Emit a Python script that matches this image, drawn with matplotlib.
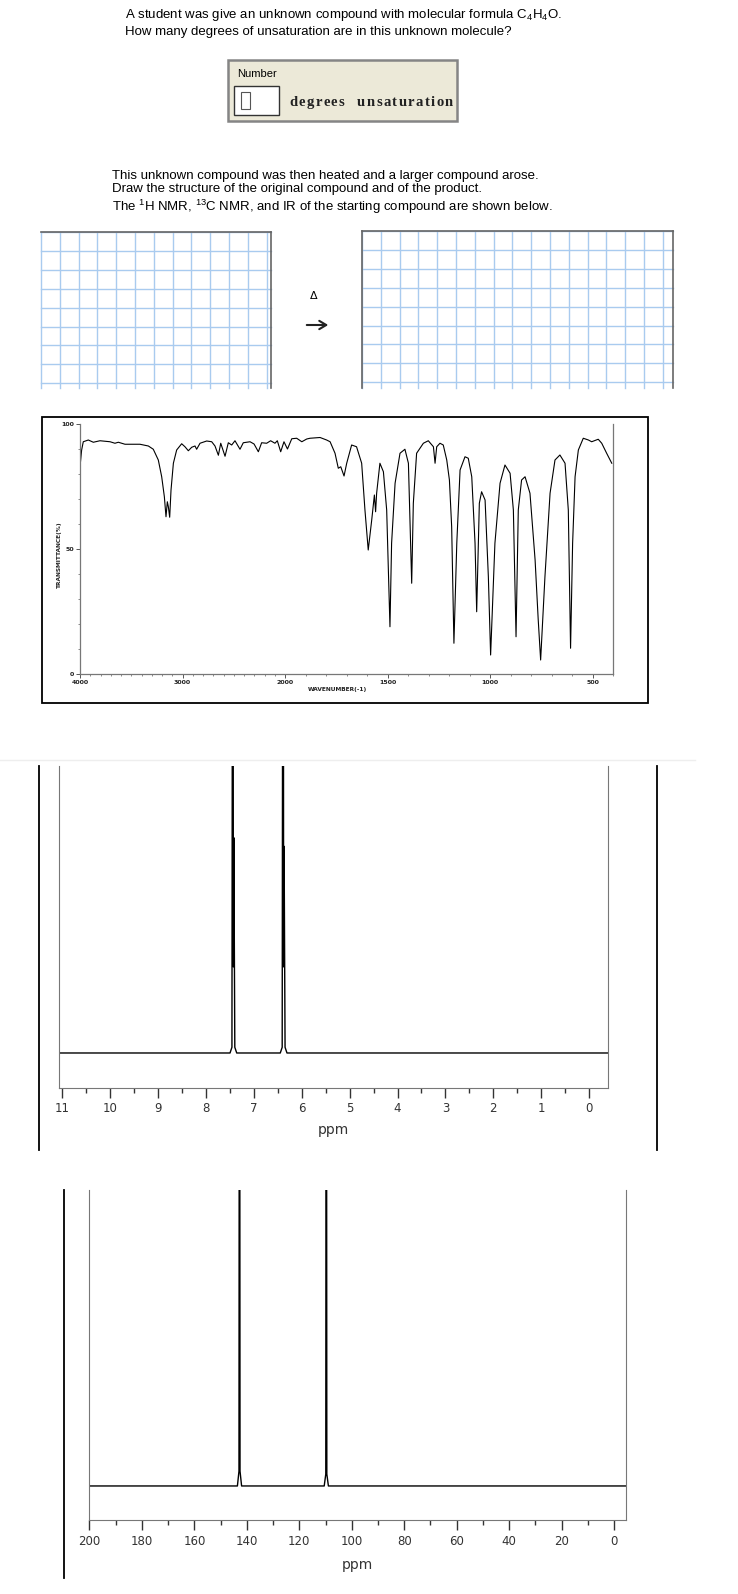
import numpy as np
import matplotlib
matplotlib.use("Agg")
import matplotlib.pyplot as plt
from matplotlib.patches import Rectangle
from matplotlib.ticker import FixedLocator

plt.rcParams['font.family'] = ['Liberation Sans', 'DejaVu Sans']
plt.rcParams['mathtext.fontset'] = 'custom'
plt.rcParams['mathtext.rm'] = 'Liberation Sans'

W, H = 738, 1594

# IR spectrum (wavenumber in cm-1, transmittance in %)
ir_wavenumber = [
    4000, 3984, 3968, 3919, 3870, 3805, 3707, 3659, 3626, 3561,
    3415, 3333, 3285, 3236, 3203, 3177, 3161, 3148, 3138, 3125,
    3112, 3089, 3057, 3008, 2976, 2943, 2910, 2878, 2862, 2829,
    2764, 2715, 2683, 2650, 2627, 2585, 2553, 2520, 2488, 2439,
    2407, 2341, 2302, 2260, 2228, 2179, 2140, 2098, 2075, 2042,
    2010, 1988, 1967, 1943, 1918, 1894, 1878, 1829, 1797, 1780,
    1756, 1740, 1728, 1712, 1699, 1675, 1651, 1626, 1610, 1594,
    1577, 1564, 1558, 1553, 1537, 1520, 1504, 1488, 1480, 1463,
    1439, 1415, 1398, 1382, 1374, 1358, 1325, 1301, 1276, 1268,
    1260, 1244, 1228, 1211, 1198, 1187, 1176, 1162, 1146, 1122,
    1106, 1089, 1073, 1065, 1052, 1041, 1024, 1008, 997, 976,
    951, 927, 902, 886, 873, 862, 846, 829, 805, 780,
    765, 753, 745, 732, 707, 683, 659, 634, 618, 607,
    597, 585, 569, 545, 520, 504, 472, 455, 431, 406]
ir_transmittance = [
    82.9, 89.6, 92.9, 93.6, 92.7, 93.3, 92.9, 92.3, 92.7, 91.9,
    91.9, 91.2, 89.9, 85.6, 78.9, 70.9, 62.9, 68.9, 66.9, 62.7,
    73.6, 84.3, 89.6, 92.1, 90.9, 89.3, 90.7, 91.2, 89.9, 92.3,
    93.2, 92.9, 91.2, 87.5, 92.3, 87.1, 92.5, 91.6, 93.3, 89.9,
    92.5, 92.9, 92.0, 88.9, 92.5, 92.3, 93.3, 92.3, 93.3, 88.9,
    92.9, 90.0, 94.1, 94.3, 92.9, 94.0, 94.3, 94.6, 93.6, 92.9,
    88.3, 82.3, 82.9, 79.2, 84.3, 91.6, 90.9, 84.3, 65.6, 49.6,
    61.6, 71.6, 64.9, 72.3, 84.3, 80.9, 65.6, 18.9, 52.3, 76.3,
    88.3, 89.9, 84.3, 36.3, 68.3, 88.3, 92.3, 93.3, 90.9, 84.3,
    90.9, 92.3, 91.6, 85.6, 77.6, 58.9, 12.3, 52.3, 81.6, 86.9,
    86.3, 78.9, 52.3, 24.9, 68.3, 72.9, 69.6, 38.9, 7.6, 52.3,
    76.3, 83.6, 80.3, 65.6, 14.9, 65.6, 77.6, 78.9, 72.3, 45.6,
    22.0, 5.6, 18.0, 38.9, 72.3, 85.6, 87.6, 84.3, 65.6, 10.3,
    52.3, 78.9, 89.6, 94.3, 93.6, 92.9, 93.9, 92.3, 88.3, 84.3]
ir_ticks = [4000, 3000, 2000, 1500, 1000, 500]
ir_yticks = [0, 50, 100]

# 1H NMR trace (ppm, intensity relative to the visible height; peaks run off the top)
h_ppm = [11.1, 7.50, 7.46, 7.44, 7.43, 7.42, 7.40, 7.36,
         6.45, 6.41, 6.39, 6.38, 6.37, 6.35, 6.31, -0.4]
h_intensity = [0, 0, 0.02, 3.0, 0.3, 0.75, 0.02, 0,
               0, 0.02, 3.0, 0.3, 0.72, 0.02, 0, 0]
h_ticks = list(range(0, 12))

# 13C NMR trace
c_ppm = [200.4, 143.6, 143.0, 142.8, 142.6, 142.0,
         110.5, 109.9, 109.7, 109.5, 108.9, -4.6]
c_intensity = [0, 0, 0.05, 3.0, 0.05, 0,
               0, 0.04, 3.0, 0.04, 0, 0]
c_ticks = list(range(0, 201, 20))


def px_axes(fig, x0, y0, x1, y1):
    return fig.add_axes([x0 / W, 1 - y1 / H, (x1 - x0) / W, (y1 - y0) / H])


fig = plt.figure(figsize=(W / 100, H / 100), dpi=100)
bg = fig.add_axes([0, 0, 1, 1])
bg.set_xlim(0, W)
bg.set_ylim(H, 0)
bg.axis('off')
renderer = fig.canvas.get_renderer()

# question text
bg.text(125, 15, r"A student was give an unknown compound with molecular formula "
        r"C$_\mathregular{4}$H$_\mathregular{4}$O.", fontsize=9.5, va='center')
bg.text(125, 32, "How many degrees of unsaturation are in this unknown molecule?",
        fontsize=9.5, va='center')

# answer box
bg.add_patch(Rectangle((228, 60), 229, 61, facecolor='#ECE9D8', edgecolor='#858585', lw=1.8))
bg.text(237, 74, 'Number', fontsize=8, va='center')
bg.add_patch(Rectangle((234, 86), 45, 29, facecolor='white', edgecolor='#333333', lw=1))
bg.add_patch(Rectangle((241, 92), 9, 17, facecolor='white', edgecolor='#555555', lw=0.8))

# letter-spaced bold serif label
x = 289
for ch in "degrees unsaturation":
    if ch == ' ':
        x += 11
        continue
    t = bg.text(x, 102, ch, family='Liberation Serif', weight='bold', fontsize=10.5,
                va='center', color='#222222')
    x += t.get_window_extent(renderer).width + 1.4

bg.text(112, 176, "This unknown compound was then heated and a larger compound arose.",
        fontsize=9.5, va='center')
bg.text(112, 189, "Draw the structure of the original compound and of the product.",
        fontsize=9.5, va='center')
bg.text(112, 207, r"The $^\mathregular{1}$H NMR, $^\mathregular{13}$C NMR, and IR of the "
        r"starting compound are shown below.", fontsize=9.5, va='center')


# drawing grids
def draw_grid(x0, x1, y0, y1, borders):
    for gx in np.arange(x0, x1 - 2, 18.8):
        bg.plot([gx, gx], [y0, y1], color='#A9CBEF', lw=1.0)
    for gy in np.arange(y0, y1, 18.9):
        bg.plot([x0, x1], [gy, gy], color='#A9CBEF', lw=1.0)
    if 'top' in borders:
        bg.plot([x0, x1], [y0, y0], color='#666666', lw=1.2)
    if 'left' in borders:
        bg.plot([x0, x0], [y0, y1], color='#666666', lw=1.2)
    if 'right' in borders:
        bg.plot([x1, x1], [y0, y1], color='#666666', lw=1.2)


draw_grid(41, 271, 232, 388, ['top', 'right'])
draw_grid(362, 673, 231, 388, ['top', 'left', 'right'])
bg.text(314, 296, '\u0394', fontsize=8, ha='center', va='center', family='DejaVu Sans')
bg.annotate('', xy=(331, 325), xytext=(304, 325),
            arrowprops=dict(arrowstyle='->,head_length=0.5,head_width=0.3', lw=1.5, color='#222222'))

# IR spectrum
bg.add_patch(Rectangle((42, 417), 606, 286, facecolor='none', edgecolor='black', lw=1.3))


def fwd(w):
    w = np.asarray(w, float)
    return np.where(w <= 2000, w / 500.0, 4.0 + (w - 2000) / 1000.0)


def inv(v):
    v = np.asarray(v, float)
    return np.where(v <= 4, v * 500.0, 2000 + (v - 4) * 1000.0)


ax_ir = px_axes(fig, 80, 424, 613, 674)
ax_ir.set_xscale('function', functions=(fwd, inv))
ax_ir.plot(ir_wavenumber, ir_transmittance, color='black', lw=0.8)
ax_ir.set_xlim(4000, 400)
ax_ir.set_ylim(0, 100)
ax_ir.xaxis.set_major_locator(FixedLocator(ir_ticks))
ax_ir.xaxis.set_minor_locator(FixedLocator(np.arange(400, 4001, 100)))
ax_ir.set_xticklabels([str(t) for t in ir_ticks])
ax_ir.yaxis.set_major_locator(FixedLocator(ir_yticks))
ax_ir.yaxis.set_minor_locator(FixedLocator(np.arange(0, 101, 10)))
ax_ir.set_yticklabels([str(t) for t in ir_yticks])
ax_ir.spines['top'].set_visible(False)
for s in ['left', 'bottom', 'right']:
    ax_ir.spines[s].set_color('#777777')
    ax_ir.spines[s].set_linewidth(0.9)
ax_ir.tick_params(which='major', length=3, width=0.7, colors='#555555', labelsize=4.5, pad=1.5,
                  labelcolor='#222222', labelfontfamily='DejaVu Sans')
ax_ir.tick_params(which='minor', length=1.5, width=0.6, colors='#777777')
for lab in ax_ir.get_xticklabels() + ax_ir.get_yticklabels():
    lab.set_fontweight('bold')
bg.text(59, 555, 'TRANSMITTANCE(%)', rotation=90, fontsize=4.2, weight='bold',
        family='DejaVu Sans', ha='center', va='center', color='#222222')
bg.text(337, 689, 'WAVENUMBER(-1)', fontsize=4.2, weight='bold', family='DejaVu Sans',
        ha='center', va='center', color='#222222')

# 1H NMR
bg.plot([0, 695], [760, 760], color='#eeeeee', lw=1)
bg.plot([39, 39], [766, 1150], color='black', lw=1.3)
bg.plot([657, 657], [766, 1150], color='black', lw=1.3)
ax_h = px_axes(fig, 59, 766, 608, 1088)
ax_h.plot(h_ppm, h_intensity, color='black', lw=1.0)
ax_h.set_xlim(11.073, -0.397)
ax_h.set_ylim(-0.122, 1.0)
ax_h.set_xticks(h_ticks)
ax_h.set_xticks(np.arange(0.5, 11, 1), minor=True)
ax_h.set_yticks([])
ax_h.spines['top'].set_visible(False)
for s in ['left', 'bottom', 'right']:
    ax_h.spines[s].set_color('#777777')
ax_h.tick_params(axis='x', which='major', length=7, width=1, colors='#333333', pad=3,
                 labelsize=8.5, labelfontfamily='DejaVu Sans')
ax_h.tick_params(axis='x', which='minor', length=3.5, width=1, colors='#333333')
bg.text(333, 1130, 'ppm', fontsize=10, family='DejaVu Sans', ha='center', va='center',
        color='#333333')

# 13C NMR
bg.plot([64, 64], [1190, 1578], color='black', lw=1.3)
ax_c = px_axes(fig, 88.5, 1190, 626, 1520)
ax_c.plot(c_ppm, c_intensity, color='black', lw=1.0)
ax_c.set_xlim(200.38, -4.58)
ax_c.set_ylim(-0.115, 1.0)
ax_c.set_xticks(c_ticks)
ax_c.set_xticks(np.arange(10, 200, 20), minor=True)
ax_c.set_yticks([])
ax_c.spines['top'].set_visible(False)
for s in ['left', 'bottom', 'right']:
    ax_c.spines[s].set_color('#777777')
ax_c.tick_params(axis='x', which='major', length=7, width=1, colors='#333333', pad=4,
                 labelsize=8.5, labelfontfamily='DejaVu Sans')
ax_c.tick_params(axis='x', which='minor', length=3.5, width=1, colors='#333333')
bg.text(357, 1565, 'ppm', fontsize=10, family='DejaVu Sans', ha='center', va='center',
        color='#333333')

fig.savefig('out.png', dpi=100)
